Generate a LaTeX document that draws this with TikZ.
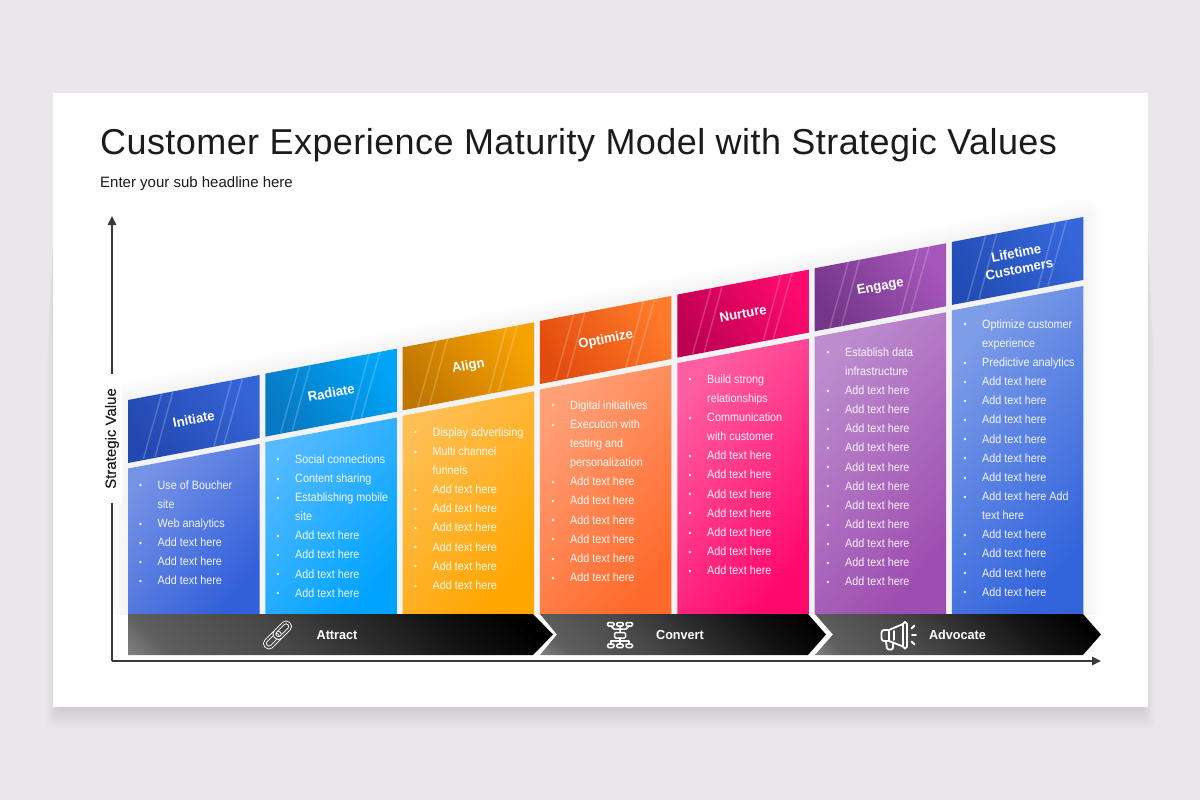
\documentclass[tikz,border=0pt]{standalone}
\usepackage{fontspec}
\setmainfont{Liberation Sans}
\newfontfamily\bodyfont[FakeStretch=0.9]{Liberation Sans}
\newfontfamily\headfont[FakeStretch=0.97]{Liberation Sans}
\newfontfamily\titlefont[LetterSpace=1.2]{Liberation Sans}
\newfontfamily\medfont[FakeBold=0.35]{Liberation Sans}
\usetikzlibrary{arrows.meta,calc}
\definecolor{bgc}{HTML}{E9E7E9}
\definecolor{axisc}{HTML}{3A3A3A}
\definecolor{titlec}{HTML}{1B1B1F}
\definecolor{gapc}{HTML}{F3F3F3}
\definecolor{gA}{gray}{0.5}
\definecolor{gB}{gray}{0.37}
\definecolor{gC}{gray}{0.28}
\definecolor{gD}{gray}{0.07}
\pgfdeclareverticalshading{chevfade}{100bp}{color(0bp)=(black); color(58.3bp)=(black); color(61.6bp)=(gD); color(68.6bp)=(gC); color(73.4bp)=(gB); color(75bp)=(gA); color(100bp)=(gA)}
\tikzset{
  glass/.style={draw=white,draw opacity=.2,line width=1.5pt},
  headlabel/.style={text=white,font=\headfont\bfseries\fontsize{13.5}{16.5}\selectfont,align=center,rotate=10.9,inner sep=0pt},
  bodytext/.style={text=white,text opacity=.92,font=\bodyfont\fontsize{12}{19.14}\selectfont,align=left,anchor=north west,inner sep=0pt},
  chevlabel/.style={text=white,font=\headfont\bfseries\fontsize{13}{14}\selectfont,inner sep=0pt},
  axisline/.style={draw=axisc,line width=1.3pt},
  iconline/.style={draw=white,line width=1.5pt,line cap=round,line join=round}
}
\newcommand{\bl}[1]{\makebox[18.5pt][l]{\raisebox{.3pt}{\fontsize{9}{9}\selectfont •}}\rule{0pt}{9pt}#1}
\newcommand{\cn}[1]{\hspace*{18.5pt}#1}
% \chevfill{outline}{corner x}{corner y}{square side}: true 45 degree fade from the bottom-left corner
\newcommand{\chevfill}[4]{%
  \begin{scope}
    \clip #1;
    \pgfmathsetmacro{\cx}{#2+.35355*#4}
    \pgfmathsetmacro{\cy}{#3-.35355*#4}
    \shade[shading=chevfade,shading angle=135] (\cx-#4/2,\cy-#4/2) rectangle (\cx+#4/2,\cy+#4/2);
  \end{scope}
}
% \mmcol{index}{hdr dark}{hdr bright}{body light}{body strong}{label}{name}
\newcommand{\mmcol}[7]{%
  \definecolor{hdrA}{HTML}{#2}\definecolor{hdrB}{HTML}{#3}%
  \definecolor{bodyA}{HTML}{#4}\definecolor{bodyB}{HTML}{#5}%
  \pgfmathsetmacro{\xL}{128+137.33*#1}
  \pgfmathsetmacro{\xR}{\xL+131.5}
  \pgfmathsetmacro{\dy}{26.35*#1}
  \shade[left color=hdrA,right color=hdrB,shading angle=125]
    (\xL,400-\dy) -- (\xR,375-\dy) -- (\xR,438-\dy) -- (\xL,463-\dy) -- cycle;
  \shade[left color=bodyA,right color=bodyB,shading angle=50]
    (\xL,468.5-\dy) -- (\xR,444-\dy) -- (\xR,614) -- (\xL,614) -- cycle;
  \draw[glass] (\xL+15.3,459.3-\dy) -- (\xL+33.7,393.5-\dy);
  \draw[glass] (\xL+27,457-\dy) -- (\xL+44.7,392-\dy);
  \draw[glass] (\xL+86,446-\dy) -- (\xL+103.7,380-\dy);
  \draw[glass] (\xL+96,444-\dy) -- (\xL+114.7,378-\dy);
  \node[headlabel] (#7) at (\xL+65.75,419-\dy) {#6};
}
\begin{document}
\begin{tikzpicture}[x=1pt,y=-1pt]
\useasboundingbox (0,0) rectangle (1200,800);
\fill[bgc] (0,0) rectangle (1200,800);
% card with soft shadow, opaque layers from faint to strong
\foreach \w in {20,19,...,1}{
  \pgfmathsetmacro{\p}{.6*(20-\w)}
  \fill[black!\p!bgc,rounded corners=4pt] (60-.7*\w,93+14*\w) rectangle (1141+.7*\w,707+1.1*\w);
}
\fill[white] (53,93) rectangle (1148,707);
\node[anchor=base west,inner sep=0pt,text=titlec,font=\titlefont\fontsize{36}{40}\selectfont] (title) at (100,154) {Customer Experience Maturity Model with Strategic Values};
\node[anchor=base west,inner sep=0pt,text=titlec,font=\fontsize{15}{17}\selectfont] (subtitle) at (100,187) {Enter your sub headline here};
% soft shadows behind the columns
\begin{scope}
\clip (0,0) rectangle (1200,614);
\foreach \w in {36,32,...,4}{
  \pgfmathsetmacro{\p}{4.5*(40-\w)/36}
  \foreach \i in {0,...,6}{
    \pgfmathsetmacro{\xL}{128+137.33*\i}
    \pgfmathsetmacro{\xR}{\xL+131.5}
    \pgfmathsetmacro{\dy}{26.35*\i}
    \draw[black!\p!white,line width=\w pt,line join=round] (\xL,400-\dy) -- (\xR,375-\dy) -- (\xR,614) -- (\xL,614) -- cycle;
  }
}
\foreach \i in {0,...,6}{
  \pgfmathsetmacro{\xL}{128+137.33*\i}
  \pgfmathsetmacro{\xR}{\xL+131.5}
  \pgfmathsetmacro{\dy}{26.35*\i}
  \fill[gapc] (\xL,400-\dy) -- (\xR,375-\dy) -- (\xR,614) -- (\xL,614) -- cycle;
}
\end{scope}
% columns
\mmcol{0}{2348B0}{3564D6}{7793E6}{3260DA}{Initiate}{hInitiate}
\mmcol{1}{0779C2}{00A4F8}{55BAFF}{00A3FF}{Radiate}{hRadiate}
\mmcol{2}{C07600}{F7A203}{FFBF55}{FFA500}{Align}{hAlign}
\mmcol{3}{E24C0E}{FF7A2A}{FFA077}{FF6A2C}{Optimize}{hOptimize}
\mmcol{4}{BE0052}{FF0A6F}{FF5EA3}{FF0A6C}{Nurture}{hNurture}
\mmcol{5}{74368A}{A656BA}{BC8CCF}{9E4DB0}{Engage}{hEngage}
\mmcol{6}{234DB5}{3566DA}{7E9DE8}{3264DC}{Lifetime\\Customers}{hLifetime}
% body text
\node[bodytext] (tInitiate) at (139,480) {\bl{Use of Boucher}\\\cn{site}\\\bl{Web analytics}\\\bl{Add text here}\\\bl{Add text here}\\\bl{Add text here}};
\node[bodytext] (tRadiate) at (276.5,454) {\bl{Social connections}\\\bl{Content sharing}\\\bl{Establishing mobile}\\\cn{site}\\\bl{Add text here}\\\bl{Add text here}\\\bl{Add text here}\\\bl{Add text here}};
\node[bodytext] (tAlign) at (414,427) {\bl{Display advertising}\\\bl{Multi channel}\\\cn{funnels}\\\bl{Add text here}\\\bl{Add text here}\\\bl{Add text here}\\\bl{Add text here}\\\bl{Add text here}\\\bl{Add text here}};
\node[bodytext] (tOptimize) at (551.5,400) {\bl{Digital initiatives}\\\bl{Execution with}\\\cn{testing and}\\\cn{personalization}\\\bl{Add text here}\\\bl{Add text here}\\\bl{Add text here}\\\bl{Add text here}\\\bl{Add text here}\\\bl{Add text here}};
\node[bodytext] (tNurture) at (688.5,374) {\bl{Build strong}\\\cn{relationships}\\\bl{Communication}\\\cn{with customer}\\\bl{Add text here}\\\bl{Add text here}\\\bl{Add text here}\\\bl{Add text here}\\\bl{Add text here}\\\bl{Add text here}\\\bl{Add text here}};
\node[bodytext] (tEngage) at (826.5,347) {\bl{Establish data}\\\cn{infrastructure}\\\bl{Add text here}\\\bl{Add text here}\\\bl{Add text here}\\\bl{Add text here}\\\bl{Add text here}\\\bl{Add text here}\\\bl{Add text here}\\\bl{Add text here}\\\bl{Add text here}\\\bl{Add text here}\\\bl{Add text here}};
\node[bodytext] (tLifetime) at (963.5,319) {\bl{Optimize customer}\\\cn{experience}\\\bl{Predictive analytics}\\\bl{Add text here}\\\bl{Add text here}\\\bl{Add text here}\\\bl{Add text here}\\\bl{Add text here}\\\bl{Add text here}\\\bl{Add text here Add}\\\cn{text here}\\\bl{Add text here}\\\bl{Add text here}\\\bl{Add text here}\\\bl{Add text here}};
% chevrons
\chevfill{(128,614) -- (533,614) -- (553,634.5) -- (533,655) -- (128,655) -- cycle}{128}{655}{900}
\chevfill{(540,614) -- (808,614) -- (826,634.5) -- (808,655) -- (540,655) -- (557,634.5) -- cycle}{540}{655}{640}
\chevfill{(815,614) -- (1083,614) -- (1101,634.5) -- (1083,655) -- (815,655) -- (833,634.5) -- cycle}{815}{655}{640}
\node[chevlabel] (attract) at (337,635) {Attract};
\node[chevlabel] (convert) at (680,635) {Convert};
\node[chevlabel] (advocate) at (957.5,635) {Advocate};
% paperclip icon
\begin{scope}[shift={(277.5,635)},rotate=45]
  \draw[draw=white,line width=.9pt,double=black!72,double distance=1.7pt,rounded corners=3.6pt] (-16,-4) rectangle (2.5,4);
  \draw[draw=white,line width=.9pt,double=black!72,double distance=1.7pt,rounded corners=3.6pt] (-2.5,-4) rectangle (16,4);
\end{scope}
% org chart icon
\begin{scope}[iconline]
  \draw[rounded corners=1.2pt] (607.5,622.5) rectangle (614,626);
  \draw[rounded corners=1.2pt] (616.8,622.5) rectangle (623.2,626);
  \draw[rounded corners=1.2pt] (626,622.5) rectangle (632.5,626);
  \draw (611,626) -- (614,629) -- (626,629) -- (629,626) (620,626) -- (620,632.5);
  \draw[rounded corners=1.2pt] (614.5,632.5) rectangle (625.5,638);
  \draw (620,638) -- (620,644) (611,644) -- (611,641) -- (629,641) -- (629,644);
  \draw[rounded corners=1.2pt] (607.5,644) rectangle (614,647.5);
  \draw[rounded corners=1.2pt] (616.8,644) rectangle (623.2,647.5);
  \draw[rounded corners=1.2pt] (626,644) rectangle (632.5,647.5);
\end{scope}
% megaphone icon
\begin{scope}[iconline,line width=1.8pt]
  \draw[rounded corners=2.5pt] (889,630) -- (881.5,630) -- (881.5,641) -- (889,641);
  \draw (889,630) -- (903,624) -- (903,646.5) -- (889,641) -- cycle;
  \draw[rounded corners=1.8pt] (903,622) rectangle (907,648.5);
  \draw (894,631) -- (894,640);
  \draw[rounded corners=1.5pt] (886,641.5) -- (887,649.5) -- (893,649.5) -- (893,642.5);
  \draw (911.5,628.5) -- (914.5,625.5) (912,635) -- (916,635) (911.5,641.5) -- (914.5,644.5);
\end{scope}
% axes
\coordinate (origin) at (112,661);
\coordinate (ytip) at (112,216);
\coordinate (xtip) at (1101,661);
\draw[axisline,-{Triangle[length=9pt,width=8.5pt]}] (origin) -- (ytip);
\draw[axisline,-{Triangle[length=9pt,width=8.5pt]}] (origin) -- (xtip);
\node[fill=white,rotate=90,text=titlec,inner xsep=14pt,inner ysep=3pt,font=\medfont\fontsize{15}{17}\selectfont] (yaxis) at (112,438.5) {Strategic Value};
\end{tikzpicture}
\end{document}
